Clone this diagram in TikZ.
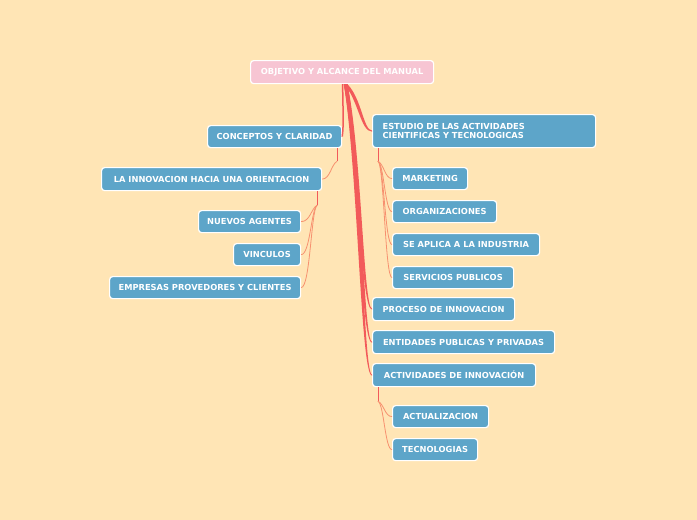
\documentclass[tikz,border=0pt]{standalone}
\usepackage{fontspec}
\setmainfont{DejaVu Sans}
\usetikzlibrary{calc}
\definecolor{bgc}{HTML}{FFE5B5}
\definecolor{bluec}{HTML}{5DA5C9}
\definecolor{pinkc}{HTML}{F7C5D3}
\definecolor{redc}{HTML}{F25A5A}
\definecolor{salc}{HTML}{F7906F}
\tikzset{
  bx/.style={draw=white, line width=1.2pt, fill=bluec, rounded corners=3pt, text=white,
     font=\fontsize{8.3}{9}\selectfont\bfseries, inner sep=0pt, minimum height=22, anchor=north west},
  rootbx/.style={bx, fill=pinkc, minimum height=23},
  stubc/.style={draw=redc, line width=1pt},
  subc/.style={draw=salc, line width=0.8pt},
}
\newcommand\mainlink[2]{%
 \fill[redc] let \p1=(#1), \p2=(#2) in
 (\x1+1.8pt,\y1) .. controls ({\x1+16pt},{\y1+0.3*(\y2-\y1)}) and (\x2-8.6pt,\y2+0.9pt) .. (\x2,\y2+0.5pt)
 -- (\x2,\y2-0.5pt) .. controls (\x2-11.4pt,\y2-0.9pt) and ({\x1+12.4pt},{\y1+0.3*(\y2-\y1)}) .. (\x1-1.8pt,\y1) -- cycle;}
\newcommand\rsub[2]{%
 \draw[subc] let \p1=(#1), \p2=(#2) in (\p1) .. controls (\x1+6pt,\y1-3pt) and (\x1+7pt,\y2) .. (\p2);}
\newcommand\lsub[2]{%
 \draw[subc] let \p1=(#1), \p2=(#2) in (\p1) .. controls (\x1-6pt,\y1-3pt) and (\x1-7pt,\y2) .. (\p2);}
\begin{document}
\begin{tikzpicture}[x=1pt,y=-1pt]
\fill[bgc] (0,0) rectangle (697,520);
\useasboundingbox (0,0) rectangle (697,520);
% nodes
\node[rootbx, minimum width=183] (root) at (250,60) {OBJETIVO Y ALCANCE DEL MANUAL};
\node[bx, minimum width=134] (conc) at (207,125) {CONCEPTOS Y CLARIDAD};
\node[bx, minimum width=220, minimum height=23] (innov) at (101,167) {LA INNOVACION HACIA UNA ORIENTACION};
\node[bx, minimum width=102] (nuev) at (198,210) {NUEVOS AGENTES};
\node[bx, minimum width=67] (vinc) at (233,243) {VINCULOS};
\node[bx, minimum width=191] (empr) at (109,276) {EMPRESAS PROVEDORES Y CLIENTES};
\node[bx, minimum width=223, minimum height=33, text width=203, align=left, inner xsep=10pt,
      font=\fontsize{8.3}{9}\selectfont\bfseries] (estu) at (372,114)
      {ESTUDIO DE LAS ACTIVIDADES\\CIENTIFICAS Y TECNOLOGICAS};
\node[bx, minimum width=75] (mark) at (392,167) {MARKETING};
\node[bx, minimum width=104] (orga) at (392,200) {ORGANIZACIONES};
\node[bx, minimum width=147] (apli) at (392,233) {SE APLICA A LA INDUSTRIA};
\node[bx, minimum width=121] (serv) at (392,266) {SERVICIOS PUBLICOS};
\node[bx, minimum width=142, minimum height=23] (proc) at (372,297) {PROCESO DE INNOVACION};
\node[bx, minimum width=182, minimum height=23] (enti) at (372,330) {ENTIDADES PUBLICAS Y PRIVADAS};
\node[bx, minimum width=163, minimum height=23] (acti) at (372,363) {ACTIVIDADES DE INNOVACIÓN};
\node[bx, minimum width=96] (actu) at (392,405) {ACTUALIZACION};
\node[bx, minimum width=85] (tecn) at (392,438) {TECNOLOGIAS};
% main links
\draw[redc, line width=1.5pt] ($(root.south)+(0.5,0)$) .. controls ($(root.south)+(1,30)$) and ($(conc.east)+(1.5,-10)$) .. (conc.east);
\mainlink{$(root.south)+(3.5,0)$}{estu.west}
\mainlink{$(root.south)+(3.5,0)$}{proc.west}
\mainlink{$(root.south)+(3.5,0)$}{enti.west}
\mainlink{$(root.south)+(3.5,0)$}{acti.west}
% left sub links
\coordinate (ck) at ($(conc.south east)+(-5,13)$);
\draw[stubc] ($(conc.south east)+(-5,0)$) -- (ck);
\lsub{ck}{innov.east}
\coordinate (ik) at ($(innov.south east)+(-5,14)$);
\draw[stubc] ($(innov.south east)+(-5,0)$) -- (ik);
\lsub{ik}{nuev.east}
\lsub{ik}{vinc.east}
\lsub{ik}{empr.east}
% right sub links
\coordinate (ek) at ($(estu.south west)+(6,13)$);
\draw[stubc] ($(estu.south west)+(6,0)$) -- (ek);
\rsub{ek}{mark.west}
\rsub{ek}{orga.west}
\rsub{ek}{apli.west}
\rsub{ek}{serv.west}
\coordinate (ak) at ($(acti.south west)+(6,14)$);
\draw[stubc] ($(acti.south west)+(6,0)$) -- (ak);
\rsub{ak}{actu.west}
\rsub{ak}{tecn.west}
\end{tikzpicture}
\end{document}
